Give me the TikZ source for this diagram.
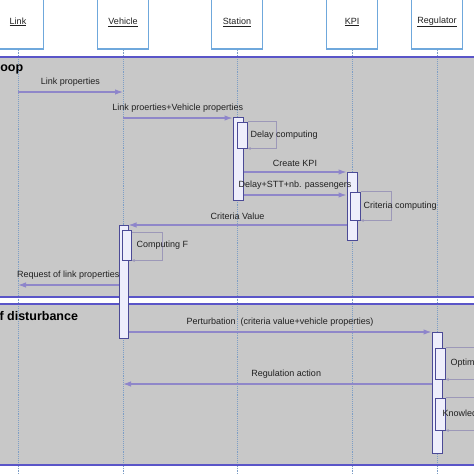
\documentclass[tikz,border=0pt]{standalone}
\usepackage{fontspec}
\setmainfont{Liberation Sans}
\usetikzlibrary{shapes,arrows.meta,positioning,fit,backgrounds}

\definecolor{cframefill}{HTML}{C8C8C8}
\definecolor{cframeline}{HTML}{5A55C8}
\definecolor{cheadline}{HTML}{6FA8DC}
\definecolor{clifeline}{HTML}{7D9EC6}
\definecolor{cbarline}{HTML}{4B4A96}
\definecolor{cbarfill}{HTML}{EEEEFC}
\definecolor{cmsgline}{HTML}{8F87C9}
\definecolor{cmsghead}{HTML}{8B7FD6}
\definecolor{cselfbox}{HTML}{9C98B8}
\definecolor{ctext}{HTML}{202020}

\begin{document}
\begin{tikzpicture}[
    x=1pt, y=-1pt,
    lifebox/.style={rectangle, draw=cheadline, line width=1.3pt, fill=white, minimum width=51pt, minimum height=54pt, text=ctext, font=\fontsize{9}{10}\selectfont},
    actbar/.style={rectangle, draw=cbarline, fill=cbarfill, line width=1pt, inner sep=0pt},
    lifeline/.style={draw=clifeline, densely dotted, line width=0.9pt},
    frameline/.style={draw=cframeline, line width=1.8pt},
    msg/.style={-{Latex[length=8pt,width=5.5pt,fill=cmsghead]}, draw=cmsgline, line width=1.1pt},
    selfloop/.style={draw=cselfbox, line width=0.8pt, -{Latex[length=3pt,width=3pt,fill=cmsghead]}},
    msgtext/.style={font=\fontsize{9}{10}\selectfont, text=ctext, inner sep=1pt},
    frametitle/.style={font=\fontsize{12.5}{14}\bfseries\selectfont, text=black, inner sep=0pt, anchor=west}
]
\useasboundingbox (0,0) rectangle (474,474);
\clip (0,0) rectangle (474,474);
\fill [white] (0,0) rectangle (474,474);

% Frames
\fill [cframefill] (-10,57) rectangle (490,297);
\fill [cframefill] (-10,304) rectangle (490,465);

% Lifeline heads
\node [lifebox] (link) at (18,22) {\underline{Link}};
\node [lifebox] (vehicle) at (123,22) {\underline{Vehicle}};
\node [lifebox] (station) at (237,22) {\underline{Station}};
\node [lifebox] (kpi) at (352,22) {\underline{KPI}};
\node [lifebox] (regulator) at (437,22) {\underline{Regulator}};

\coordinate (bottom) at (0,474);
\foreach \n in {link,vehicle,station,kpi,regulator}
    \draw [lifeline] (\n.south) -- (\n.south |- bottom);

% Frame lines
\draw [frameline] (-10,57) -- (490,57);
\draw [frameline] (-10,297) -- (490,297);
\draw [frameline] (-10,304) -- (490,304);
\draw [frameline] (-10,465) -- (490,465);

\node [frametitle] (loop_title) at (-7.5,68) {Loop};
\node [frametitle] (dist_title) at (-8.3,316) {of disturbance};

% Message heights
\coordinate (m1) at (0,92);
\coordinate (m2) at (0,118);
\coordinate (m3) at (0,172);
\coordinate (m4) at (0,195);
\coordinate (m5) at (0,225);
\coordinate (m6) at (0,285);
\coordinate (m7) at (0,332);
\coordinate (m8) at (0,384);

% Activations
\node [actbar, fit={(233,117) (243,200)}] (station_act) {};
\node [actbar, fit={(347,172) (357,240)}] (kpi_act) {};
\node [actbar, fit={(119,225) (128,338)}] (vehicle_act) {};
\node [actbar, fit={(432,332) (442,453)}] (reg_act) {};

% Messages
\draw [msg] (link |- m1) -- node [msgtext, above=4pt] {Link properties} (vehicle |- m1);
\draw [msg] (vehicle |- m2) -- node [msgtext, above=4pt] {Link proerties+Vehicle properties} (station_act.west |- m2);
\draw [msg] (station_act.east |- m3) -- node [msgtext, above=4pt] {Create KPI} (kpi_act.west |- m3);
\draw [msg] (station_act.east |- m4) -- node [msgtext, above=4pt] {Delay+STT+nb. passengers} (kpi_act.west |- m4);
\draw [msg] (kpi_act.west |- m5) -- node [msgtext, above=4pt] {Criteria Value} (vehicle_act.east |- m5);
\draw [msg] (vehicle_act.west |- m6) -- node [msgtext, above=4pt] {Request of link properties} (link |- m6);
\draw [msg] (vehicle_act.east |- m7) -- node [msgtext, above=4pt] {Perturbation~ (criteria value+vehicle properties)} (reg_act.west |- m7);
\draw [msg] (reg_act.west |- m8) -- node [msgtext, above=4pt, xshift=9pt] {Regulation action} (vehicle |- m8);

% Self calls
\node [actbar, fit={(237,122) (247,148)}] (delay_bar) {};
\draw [selfloop] (delay_bar.north east) -- ++(29,0) |- (delay_bar.south east);
\node [msgtext, anchor=west] (delay_txt) at ([xshift=2pt]delay_bar.east) {Delay computing};

\node [actbar, fit={(350,192) (360,220)}] (crit_bar) {};
\draw [selfloop] (crit_bar.north east) -- ++(31,0) |- (crit_bar.south east);
\node [msgtext, anchor=west] (crit_txt) at ([xshift=2pt]crit_bar.east) {Criteria computing};

\node [actbar, fit={(122,230) (131,260)}] (compf_bar) {};
\draw [selfloop] (compf_bar.north east) ++(0,3) -- ++(31,0) |- (compf_bar.south east);
\node [msgtext, anchor=west] (compf_txt) at ([xshift=4pt]compf_bar.east) {Computing F};

\node [actbar, fit={(435,348) (445,379)}] (optim_bar) {};
\draw [selfloop] (optim_bar.north east) -- ++(45,0) |- (optim_bar.south east);
\node [msgtext, anchor=west] (optim_txt) at ([xshift=4pt]optim_bar.east) {Optimization};

\node [actbar, fit={(435,398) (445,430)}] (know_bar) {};
\draw [selfloop] (know_bar.north east) -- ++(45,0) |- (know_bar.south east);
\node [msgtext, anchor=west] (know_txt) at ([xshift=-4pt]know_bar.east) {Knowledge};

\end{tikzpicture}
\end{document}
